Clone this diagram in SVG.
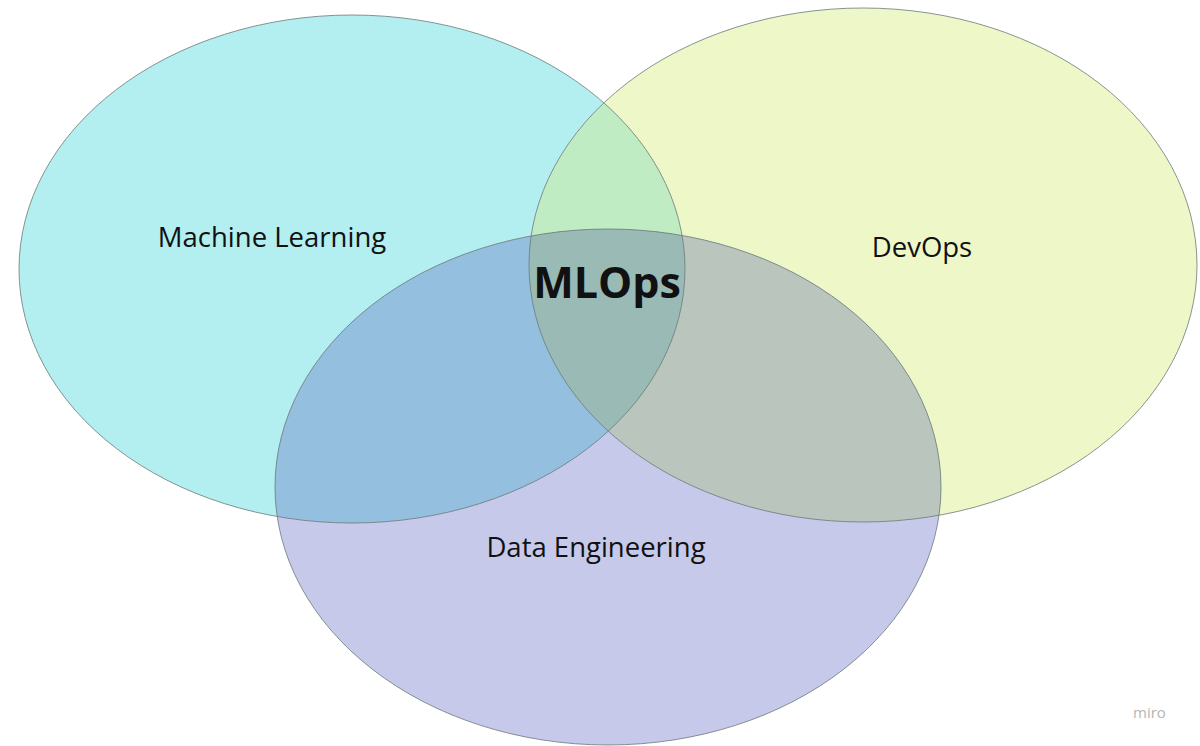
<svg xmlns="http://www.w3.org/2000/svg" width="1200" height="746" viewBox="0 0 1200 746">
<style>
.e{stroke:#6b7a7a;stroke-width:0.8;fill:none}
.t{font-family:"Open Sans",sans-serif;fill:#111;text-anchor:middle}
</style>
<defs>
<clipPath id="cML"><ellipse cx="352" cy="269" rx="333" ry="254"/></clipPath>
<clipPath id="cDO"><ellipse cx="863" cy="265" rx="334" ry="257"/></clipPath>
<clipPath id="cDE"><ellipse cx="608" cy="487" rx="333" ry="258"/></clipPath>
</defs>
<rect width="1200" height="746" fill="#fff"/>
<g id="ml"><ellipse cx="352" cy="269" rx="333" ry="254" fill="#b3eef0"/></g>
<g id="devops"><ellipse cx="863" cy="265" rx="334" ry="257" fill="#eef7c7"/></g>
<g id="de"><ellipse cx="608" cy="487" rx="333" ry="258" fill="#c6c9e9"/></g>
<g id="overlaps">
<g clip-path="url(#cML)"><ellipse cx="863" cy="265" rx="334" ry="257" fill="#c0ecc3"/><ellipse cx="608" cy="487" rx="333" ry="258" fill="#94bfde"/></g>
<g clip-path="url(#cDO)"><ellipse cx="608" cy="487" rx="333" ry="258" fill="#bac5bd"/></g>
<g clip-path="url(#cML)"><g clip-path="url(#cDO)"><ellipse cx="608" cy="487" rx="333" ry="258" fill="#9abab6"/></g></g>
</g>
<g id="outlines">
<ellipse class="e" cx="352" cy="269" rx="333" ry="254"/>
<ellipse class="e" cx="863" cy="265" rx="334" ry="257"/>
<ellipse class="e" cx="608" cy="487" rx="333" ry="258"/>
</g>
<text class="t" x="272" y="247" font-size="27.5">Machine Learning</text>
<text class="t" x="922" y="257" font-size="27.5">DevOps</text>
<text class="t" x="596" y="557" font-size="27.5">Data Engineering</text>
<text class="t" x="607" y="298" font-size="43" font-weight="bold">MLOps</text>
<text x="1133" y="718" font-family="Open Sans,sans-serif" font-size="15" fill="#b5b5b5">miro</text>
</svg>
